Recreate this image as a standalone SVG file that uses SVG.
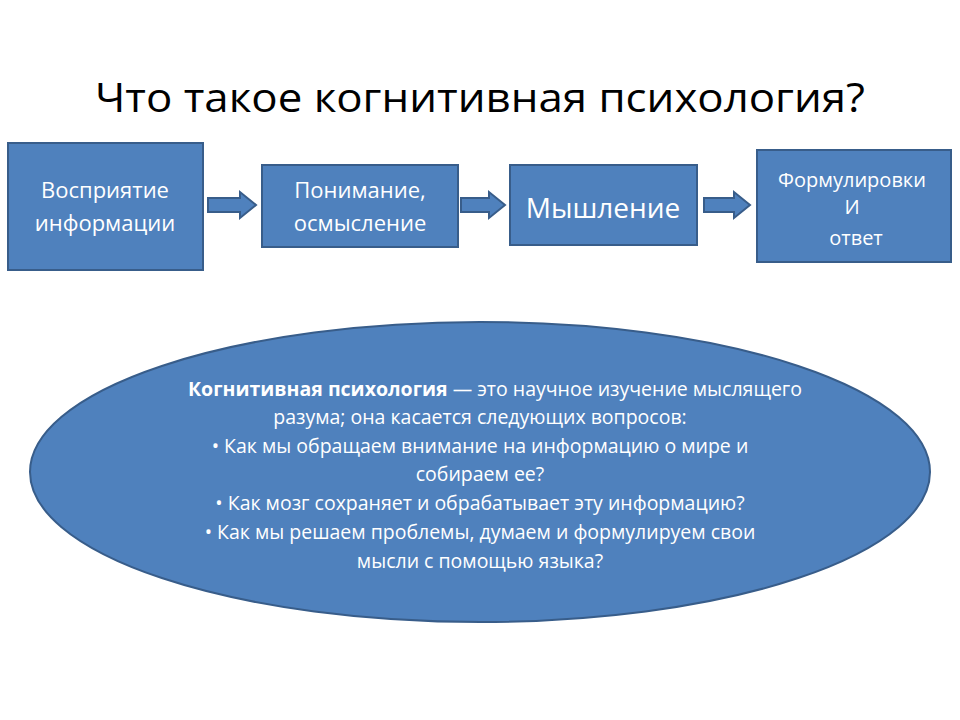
<svg xmlns="http://www.w3.org/2000/svg" width="960" height="720" viewBox="0 0 960 720">
<style>
.box{fill:#4f81bd;stroke:#385d8a;stroke-width:2}
.arr{fill:#4f81bd;stroke:#385d8a;stroke-width:2}
.t{font-family:"Open Sans","Liberation Sans",sans-serif;fill:#fff;text-anchor:middle}
.e{font-family:"Open Sans","Liberation Sans",sans-serif;fill:#fff;text-anchor:middle;font-size:19.5px}
</style>
<rect width="960" height="720" fill="#fff"/>
<text x="480" y="112" font-family="Open Sans, Liberation Sans, sans-serif" font-size="40" fill="#000" text-anchor="middle" textLength="770" lengthAdjust="spacingAndGlyphs">Что такое когнитивная психология?</text>
<g id="n1"><rect class="box" x="8" y="143" width="195" height="127"/><text class="t" font-size="22" x="105" y="198">Восприятие</text><text class="t" font-size="22" x="105" y="231">информации</text></g>
<g id="n2"><rect class="box" x="262" y="165" width="196" height="82"/><text class="t" font-size="22" x="360" y="198">Понимание,</text><text class="t" font-size="22" x="360" y="231">осмысление</text></g>
<g id="n3"><rect class="box" x="510" y="165" width="187" height="80"/><text class="t" font-size="28" x="603" y="218">Мышление</text></g>
<g id="n4"><rect class="box" x="757" y="150" width="194" height="112"/><text class="t" font-size="20" x="852" y="187">Формулировки</text><text class="t" font-size="20" x="852" y="214">И</text><text class="t" font-size="20" x="856" y="245">ответ</text></g>
<g id="connectors">
<path class="arr" d="M208 198H240V192L256 205L240 218V212H208Z"/>
<path class="arr" d="M461 198H489V192L505 205L489 218V212H461Z"/>
<path class="arr" d="M704 198H734V192L750 205L734 218V212H704Z"/>
</g>
<g id="ellipse"><ellipse class="box" cx="480" cy="472" rx="450" ry="150"/>
<text class="e" x="495" y="396"><tspan font-weight="bold">Когнитивная психология</tspan> — это научное изучение мыслящего</text>
<text class="e" x="480" y="424">разума; она касается следующих вопросов:</text>
<text class="e" x="480" y="453">• Как мы обращаем внимание на информацию о мире и</text>
<text class="e" x="480" y="481">собираем ее?</text>
<text class="e" x="480" y="510">• Как мозг сохраняет и обрабатывает эту информацию?</text>
<text class="e" x="480" y="539">• Как мы решаем проблемы, думаем и формулируем свои</text>
<text class="e" x="480" y="568">мысли с помощью языка?</text>
</g>
</svg>
